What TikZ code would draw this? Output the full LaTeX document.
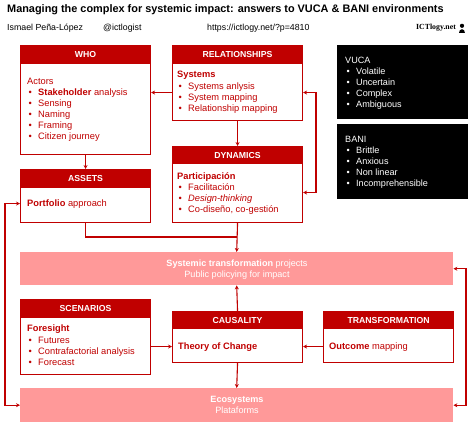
\documentclass[tikz,border=0pt]{standalone}
\usepackage{fontspec}
\setmainfont{Liberation Sans}
\newfontfamily\serifbrand{Liberation Serif}
\usetikzlibrary{arrows.meta,calc}
\definecolor{dred}{HTML}{C00000}
\definecolor{pinkbox}{HTML}{FF9999}
\begin{document}
\begin{tikzpicture}[x=1pt,y=-1pt,
  panelbox/.style={draw=dred,line width=1.1pt,fill=white,inner sep=0,anchor=north west},
  panelhead/.style={fill=dred,draw=dred,line width=1.1pt,inner sep=0,anchor=north west,text=white,font=\fontsize{8.7}{10}\selectfont\bfseries},
  wide/.style={fill=pinkbox,draw=none,inner sep=0,anchor=north west},
  blackbox/.style={fill=black,draw=none,inner sep=0,anchor=north west},
  tx/.style={inner sep=0,anchor=west,text height=6.6pt,text depth=0pt,text=dred,font=\fontsize{9.3}{11}\selectfont},
  wtx/.style={tx,text=white,font=\fontsize{9.1}{11}\selectfont},
  ptx/.style={inner sep=0,anchor=center,text height=6.6pt,text depth=0pt,text=white,font=\fontsize{9.1}{11}\selectfont},
  conn/.style={draw=dred,line width=1.1pt,-{Stealth[length=4pt,width=4pt]}},
  conn2/.style={conn,{Stealth[length=4pt,width=4pt]}-{Stealth[length=4pt,width=4pt]}},
  plain/.style={draw=dred,line width=1.1pt}
]
\useasboundingbox[fill=white] (0,0) rectangle (474,427);
\newcommand{\bul}{\makebox[11pt][l]{\hspace{1.5pt}•}}

% title
\node[inner sep=0,anchor=west,font=\fontsize{10.9}{12}\selectfont\bfseries] (title) at (7,10) {Managing the complex for systemic impact: answers to VUCA \& BANI environments};
\node[inner sep=0,anchor=west,font=\fontsize{8.8}{10}\selectfont] (author) at (7,28) {Ismael Peña-López};
\node[inner sep=0,anchor=west,font=\fontsize{8.8}{10}\selectfont] (handle) at (103,28) {@ictlogist};
\node[inner sep=0,anchor=west,font=\fontsize{8.8}{10}\selectfont] (url) at (207,28) {https://ictlogy.net/?p=4810};
\node[inner sep=0,anchor=west,font=\fontsize{7.8}{9}\selectfont\serifbrand\bfseries] (brand) at (416,28) {ICTlogy.net};
\fill (462,25.8) circle (2.1);
\fill (459,33.5) .. controls (459,28.3) and (465,28.3) .. (465,33.5) -- cycle;

% WHO
\node[panelbox,minimum width=130pt,minimum height=109pt] (who) at (20,45) {};
\node[panelhead,minimum width=130pt,minimum height=18pt] (whoh) at (20,45) {WHO};
\node[tx] (who1) at (27,81) {Actors};
\node[tx] (who2) at (27,92) {\bul\textbf{Stakeholder} analysis};
\node[tx] (who3) at (27,103) {\bul Sensing};
\node[tx] (who4) at (27,114) {\bul Naming};
\node[tx] (who5) at (27,125) {\bul Framing};
\node[tx] (who6) at (27,136) {\bul Citizen journey};

% RELATIONSHIPS
\node[panelbox,minimum width=130pt,minimum height=75pt] (rel) at (172,45) {};
\node[panelhead,minimum width=130pt,minimum height=18pt] (relh) at (172,45) {RELATIONSHIPS};
\node[tx] (rel1) at (177,74) {\textbf{Systems}};
\node[tx] (rel2) at (177,86) {\bul Systems anlysis};
\node[tx] (rel3) at (177,97) {\bul System mapping};
\node[tx] (rel4) at (177,108.5) {\bul Relationship mapping};

% DYNAMICS
\node[panelbox,minimum width=130pt,minimum height=76pt] (dyn) at (172,146) {};
\node[panelhead,minimum width=130pt,minimum height=17pt] (dynh) at (172,146) {DYNAMICS};
\node[tx] (dyn1) at (177,176) {\textbf{Participación}};
\node[tx] (dyn2) at (177,187) {\bul Facilitación};
\node[tx] (dyn3) at (177,198) {\bul\textit{Design-thinking}};
\node[tx] (dyn4) at (177,209) {\bul Co-diseño, co-gestión};

% VUCA / BANI
\node[blackbox,minimum width=131pt,minimum height=74pt] (vuca) at (337,45) {};
\node[wtx] (v1) at (345,60) {VUCA};
\node[wtx] (v2) at (345,71.5) {\bul Volatile};
\node[wtx] (v3) at (345,82.5) {\bul Uncertain};
\node[wtx] (v4) at (345,93.5) {\bul Complex};
\node[wtx] (v5) at (345,104.5) {\bul Ambiguous};
\node[blackbox,minimum width=131pt,minimum height=75pt] (bani) at (337,124) {};
\node[wtx] (b1) at (345,139) {BANI};
\node[wtx] (b2) at (345,150) {\bul Brittle};
\node[wtx] (b3) at (345,161) {\bul Anxious};
\node[wtx] (b4) at (345,172) {\bul Non linear};
\node[wtx] (b5) at (345,183) {\bul Incomprehensible};

% ASSETS
\node[panelbox,minimum width=130pt,minimum height=53pt] (assets) at (20,169) {};
\node[panelhead,minimum width=130pt,minimum height=18pt] (assetsh) at (20,169) {ASSETS};
\node[tx] (as1) at (27,203) {\textbf{Portfolio} approach};

% Systemic
\node[wide,minimum width=433pt,minimum height=33pt] (sys) at (20,252) {};
\node[ptx] (sys1) at (237,263.5) {\textbf{Systemic transformation} projects};
\node[ptx] (sys2) at (237,274.5) {Public policying for impact};

% SCENARIOS
\node[panelbox,minimum width=130pt,minimum height=75pt] (scen) at (20,299) {};
\node[panelhead,minimum width=130pt,minimum height=18pt] (scenh) at (20,299) {SCENARIOS};
\node[tx] (sc1) at (27,328) {\textbf{Foresight}};
\node[tx] (sc2) at (27,340) {\bul Futures};
\node[tx] (sc3) at (27,351) {\bul Contrafactorial analysis};
\node[tx] (sc4) at (27,362) {\bul Forecast};

% CAUSALITY
\node[panelbox,minimum width=130pt,minimum height=51pt] (caus) at (172,311) {};
\node[panelhead,minimum width=130pt,minimum height=17pt] (caush) at (172,311) {CAUSALITY};
\node[tx] (ca1) at (178,346) {\textbf{Theory of Change}};

% TRANSFORMATION
\node[panelbox,minimum width=130pt,minimum height=51pt] (trans) at (323,311) {};
\node[panelhead,minimum width=130pt,minimum height=17pt] (transh) at (323,311) {TRANSFORMATION};
\node[tx] (tr1) at (329,346) {\textbf{Outcome} mapping};

% Ecosystems
\node[wide,minimum width=433pt,minimum height=34pt] (eco) at (20,388) {};
\node[ptx] (eco1) at (237,399.5) {\textbf{Ecosystems}};
\node[ptx] (eco2) at (237,410.5) {Plataforms};

% connectors
\coordinate (r1) at ($(rel.west)+(0,9.5)$);
\draw[conn] (r1) -- (r1 -| who.east);
\draw[conn] (rel.south) -- (dyn.north);
\coordinate (r2) at ($(rel.east)+(0,9.5)$);
\coordinate (d2) at ($(dyn.east)+(0,8)$);
\coordinate (rloop) at (316,0);
\draw[conn2] (r2) -- (r2 -| rloop) -- (d2 -| rloop) -- (d2);
\draw[conn] (who.south) -- (assets.north);
\coordinate (join) at (237,237);
\draw[plain] (assets.south) |- (join);
\draw[conn] (dyn.south) -- (sys.north);
\coordinate (a2) at ($(assets.west)+(0,7.5)$);
\coordinate (lloop) at (5,0);
\draw[conn2] (a2) -- (a2 -| lloop) -- (eco.west -| lloop) -- (eco.west);
\coordinate (rrloop) at (466,0);
\draw[conn2] (sys.east) -- (sys.east -| rrloop) -- (eco.east -| rrloop) -- (eco.east);
\draw[conn] (caus.north) -- (sys.south);
\draw[conn] (caus.south) -- (eco.north);
\coordinate (s2) at ($(scen.east)+(0,9.5)$);
\draw[conn] (s2) -- (s2 -| caus.west);
\draw[conn] (s2 -| trans.west) -- (s2 -| caus.east);
\end{tikzpicture}
\end{document}
